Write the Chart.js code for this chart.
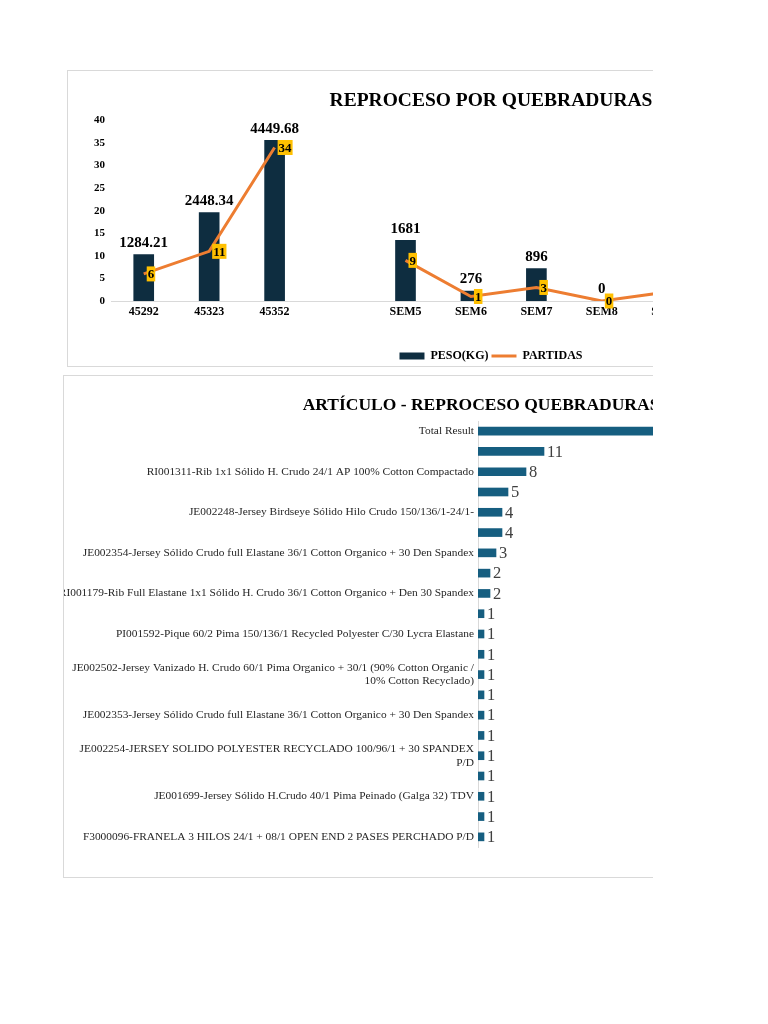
<!DOCTYPE html>
<html>
<head>
<meta charset="utf-8">
<script src="https://cdn.jsdelivr.net/npm/chart.js@4"></script>
<style>
    body { margin: 0; background: #ffffff; }
    .box {
        position: absolute;
        overflow: hidden;
        border: 1px solid #d9d9d9;
        border-right: none;
        box-sizing: border-box;
        background: #ffffff;
    }
    #box1 { left: 67px; top: 70px; width: 586px; height: 297px; }
    #box2 { left: 63px; top: 375px; width: 590px; height: 503px; }
    canvas { position: absolute; left: 0; top: 0; }
</style>
</head>
<body>
<div class="box" id="box1"><canvas id="reproceso" width="846" height="296"></canvas></div>
<div class="box" id="box2"><canvas id="articulos" width="854" height="502"></canvas></div>

<script>
// data
const periodos = ['45292', '45323', '45352', '', 'SEM5', 'SEM6', 'SEM7', 'SEM8', 'SEM9'];
const pesoKg = [1284.21, 2448.34, 4449.68, null, 1681, 276, 896, 0, null];
const partidas = [6, 11, 34, null, 9, 1, 3, 0, 2];
const ejeTicks = [0, 5, 10, 15, 20, 25, 30, 35, 40];

const articulos = [
    'Total Result',
    '',
    'RI001311-Rib 1x1 Sólido H. Crudo 24/1 AP 100% Cotton Compactado',
    '',
    'JE002248-Jersey Birdseye Sólido Hilo Crudo 150/136/1-24/1-',
    '',
    'JE002354-Jersey Sólido Crudo full Elastane 36/1 Cotton Organico + 30 Den Spandex',
    '',
    'RI001179-Rib Full Elastane 1x1 Sólido H. Crudo 36/1 Cotton Organico + Den 30 Spandex',
    '',
    'PI001592-Pique 60/2 Pima 150/136/1 Recycled Polyester C/30 Lycra Elastane',
    '',
    ['JE002502-Jersey Vanizado H. Crudo 60/1 Pima Organico + 30/1 (90% Cotton Organic /', '10% Cotton Recyclado)'],
    '',
    'JE002353-Jersey Sólido Crudo full Elastane 36/1 Cotton Organico + 30 Den Spandex',
    '',
    ['JE002254-JERSEY SOLIDO POLYESTER RECYCLADO 100/96/1 + 30 SPANDEX', 'P/D'],
    '',
    'JE001699-Jersey Sólido H.Crudo 40/1 Pima Peinado (Galga 32) TDV',
    '',
    'F3000096-FRANELA 3 HILOS 24/1 + 08/1 OPEN END 2 PASES PERCHADO P/D'
];
const partidasArticulo = [51, 11, 8, 5, 4, 4, 3, 2, 2, 1, 1, 1, 1, 1, 1, 1, 1, 1, 1, 1, 1];

const serif = "'Liberation Serif', 'Times New Roman', serif";

// value labels for the combo chart
const etiquetasCombo = {
    id: 'etiquetasCombo',
    afterDatasetsDraw(chart) {
        const ctx = chart.ctx;
        ctx.save();

        const barras = chart.getDatasetMeta(0).data;
        ctx.font = 'bold 15px ' + serif;
        ctx.fillStyle = '#000000';
        ctx.textAlign = 'center';
        ctx.textBaseline = 'bottom';
        barras.forEach((bar, i) => {
            if (pesoKg[i] === null) return;
            ctx.fillText(String(pesoKg[i]), bar.x, bar.y - 4);
        });

        const puntos = chart.getDatasetMeta(1).data;
        ctx.font = 'bold 13px ' + serif;
        ctx.textAlign = 'left';
        ctx.textBaseline = 'middle';
        puntos.forEach((pt, i) => {
            if (partidas[i] === null) return;
            const texto = String(partidas[i]);
            const w = ctx.measureText(texto).width + 2;
            ctx.fillStyle = '#ffc000';
            ctx.fillRect(pt.x + 3, pt.y - 7.5, w, 15);
            ctx.fillStyle = '#000000';
            ctx.fillText(texto, pt.x + 4, pt.y + 1);
        });
        ctx.restore();
    }
};

const etiquetasBarras = {
    id: 'etiquetasBarras',
    afterDatasetsDraw(chart) {
        const ctx = chart.ctx;
        ctx.save();
        ctx.font = '16.5px ' + serif;
        ctx.fillStyle = '#404040';
        ctx.textAlign = 'left';
        ctx.textBaseline = 'middle';
        chart.getDatasetMeta(0).data.forEach((bar, i) => {
            ctx.fillText(String(partidasArticulo[i]), bar.x + 3, bar.y + 1);
        });
        ctx.restore();
    }
};

function setComboChart()
{
    const canvas = document.getElementById('reproceso');

    new Chart(canvas, {
        type: 'bar',
        data: {
            labels: periodos,
            datasets: [
                {
                    label: 'PESO(KG)',
                    data: pesoKg,
                    backgroundColor: '#0e2d40',
                    barThickness: 20,
                    yAxisID: 'y1',
                    pointStyle: 'rect',
                    order: 2,
                },
                {
                    type: 'line',
                    label: 'PARTIDAS',
                    data: partidas,
                    borderColor: '#ed7d31',
                    backgroundColor: '#ed7d31',
                    borderWidth: 3,
                    pointRadius: 0,
                    pointHoverRadius: 0,
                    pointBorderWidth: 3,
                    pointStyle: 'line',
                    tension: 0,
                    spanGaps: false,
                    yAxisID: 'y',
                    order: 1,
                },
            ],
        },
        options: {
            responsive: false,
            animation: false,
            layout: { padding: { left: 0, right: 0, top: 0, bottom: 0 } },
            plugins: {
                tooltip: { enabled: false },
                title: {
                    display: true,
                    text: 'REPROCESO POR QUEBRADURAS',
                    color: '#000000',
                    font: { family: serif, size: 19.5, weight: 'bold' },
                    padding: { top: 18, bottom: 8 },
                },
                legend: {
                    position: 'bottom',
                    maxHeight: 20,
                    labels: {
                        usePointStyle: true,
                        pointStyleWidth: 25,
                        boxHeight: 7,
                        padding: 3,
                        color: '#000000',
                        font: { family: serif, size: 12, weight: 'bold' },
                        sort: (a, b) => a.datasetIndex - b.datasetIndex,
                    },
                },
            },
            scales: {
                x: {
                    grid: { display: false, drawTicks: false },
                    border: { display: true, color: '#d9d9d9' },
                    ticks: {
                        color: '#000000',
                        padding: 4,
                        maxRotation: 0,
                        autoSkip: false,
                        font: { family: serif, size: 12, weight: 'bold' },
                    },
                    afterFit(scale) { scale.height = 46; },
                },
                y: {
                    position: 'left',
                    min: 0,
                    max: 40,
                    afterBuildTicks(scale) { scale.ticks = ejeTicks.map((v) => ({ value: v })); },
                    grid: { display: false, drawTicks: false },
                    border: { display: false },
                    ticks: {
                        color: '#000000',
                        padding: 6,
                        font: { family: serif, size: 11, weight: 'bold' },
                    },
                    afterFit(scale) { scale.width = 43; },
                },
                y1: {
                    position: 'right',
                    min: 0,
                    max: 5000,
                    grid: { display: false, drawTicks: false },
                    border: { display: false },
                    ticks: { display: false },
                    afterFit(scale) { scale.width = 214; },
                },
            },
        },
        plugins: [etiquetasCombo],
    });
}

function setArticulosChart()
{
    const canvas = document.getElementById('articulos');

    new Chart(canvas, {
        type: 'bar',
        data: {
            labels: articulos,
            datasets: [
                {
                    label: 'Partidas',
                    data: partidasArticulo,
                    backgroundColor: '#165e80',
                    barThickness: 8,
                },
            ],
        },
        options: {
            indexAxis: 'y',
            responsive: false,
            animation: false,
            layout: { padding: { left: 0, right: 20, top: 0, bottom: 31 } },
            plugins: {
                tooltip: { enabled: false },
                legend: { display: false },
                title: {
                    display: true,
                    text: 'ARTÍCULO - REPROCESO QUEBRADURAS',
                    color: '#000000',
                    font: { family: serif, size: 17.5, weight: 'bold' },
                    padding: { top: 19, bottom: 5 },
                },
            },
            scales: {
                x: {
                    display: false,
                    min: 0,
                    max: 70,
                },
                y: {
                    grid: { display: false, drawTicks: false },
                    border: { display: true, color: '#d9d9d9' },
                    ticks: {
                        autoSkip: false,
                        color: '#262626',
                        padding: 4,
                        font: { family: serif, size: 11.4 },
                    },
                    afterFit(scale) { scale.width = 414; },
                },
            },
        },
        plugins: [etiquetasBarras],
    });
}

setComboChart();
setArticulosChart();
</script>
</body>
</html>
